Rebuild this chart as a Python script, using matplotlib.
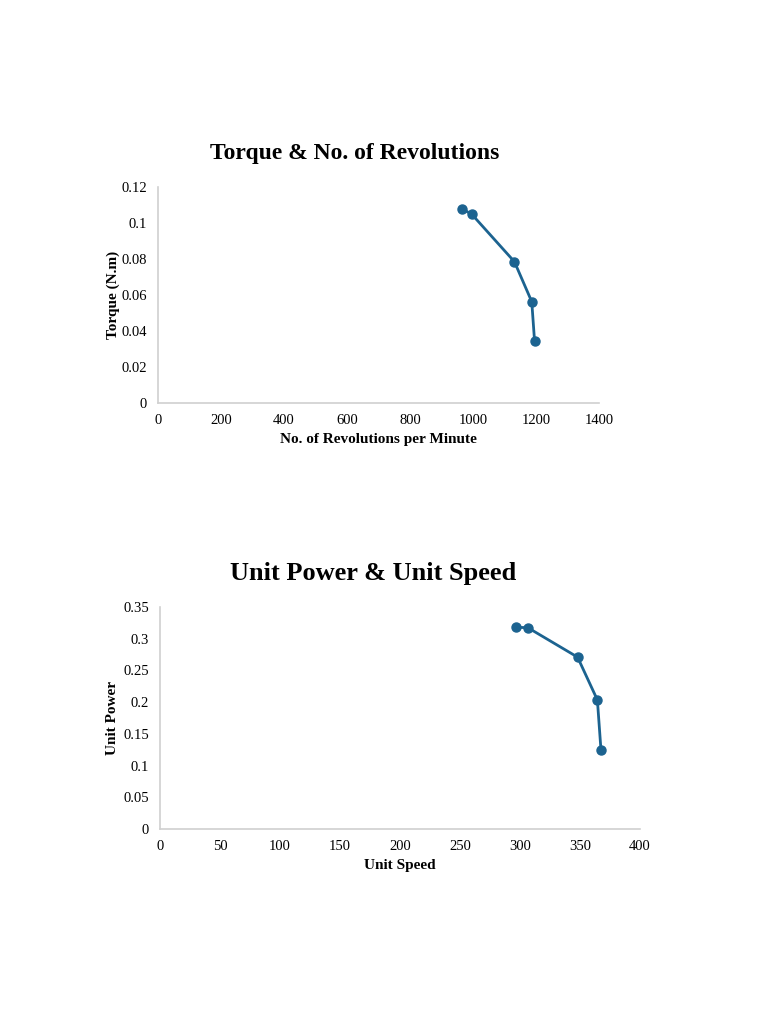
import matplotlib.pyplot as plt

plt.rcParams['font.family'] = ['Liberation Serif', 'DejaVu Serif']

# torque vs revolutions
rpm = [964, 996, 1131, 1186, 1195]
torque = [0.108, 0.1048, 0.0785, 0.0563, 0.0342]

# unit power vs unit speed
unit_speed = [296.5, 306.5, 348, 364.5, 367.5]
unit_power = [0.318, 0.3175, 0.271, 0.2035, 0.1246]

line_col = '#1c6390'
axis_col = '#d0d0d0'

fig = plt.figure(figsize=(7.68, 10.24), dpi=100)


def style(ax):
    for s in ['top', 'right']:
        ax.spines[s].set_visible(False)
    for s in ['left', 'bottom']:
        ax.spines[s].set_color(axis_col)
        ax.spines[s].set_linewidth(1.2)
    ax.tick_params(length=0, labelsize=10.5, pad=8)


ax1 = fig.add_axes([0.2057, 0.6064, 0.5745, 0.211])
ax1.plot(rpm, torque, color=line_col, lw=2, marker='o', ms=6.5)
ax1.set_xlim(0, 1400)
ax1.set_ylim(0, 0.12)
ax1.set_xticks(range(0, 1401, 200))
ax1.set_yticks([0, 0.02, 0.04, 0.06, 0.08, 0.1, 0.12])
ax1.set_yticklabels(['0', '0.02', '0.04', '0.06', '0.08', '0.1', '0.12'])
ax1.set_xlabel('No. of Revolutions per Minute', fontweight='bold', fontsize=11)
ax1.set_ylabel('Torque (N.m)', fontweight='bold', fontsize=11, labelpad=1)
style(ax1)
fig.text(0.462, 0.85, 'Torque & No. of Revolutions', ha='center', va='center',
         fontsize=17, fontweight='bold')

ax2 = fig.add_axes([0.2083, 0.1904, 0.625, 0.2168])
ax2.plot(unit_speed, unit_power, color=line_col, lw=2, marker='o', ms=6.5)
ax2.set_xlim(0, 400)
ax2.set_ylim(0, 0.35)
ax2.set_xticks(range(0, 401, 50))
ax2.set_yticks([0, 0.05, 0.1, 0.15, 0.2, 0.25, 0.3, 0.35])
ax2.set_yticklabels(['0', '0.05', '0.1', '0.15', '0.2', '0.25', '0.3', '0.35'])
ax2.set_xlabel('Unit Speed', fontweight='bold', fontsize=11)
ax2.set_ylabel('Unit Power', fontweight='bold', fontsize=11, labelpad=3)
style(ax2)
fig.text(0.486, 0.44, 'Unit Power & Unit Speed', ha='center', va='center',
         fontsize=19, fontweight='bold')

fig.savefig('out.png', dpi=100)
